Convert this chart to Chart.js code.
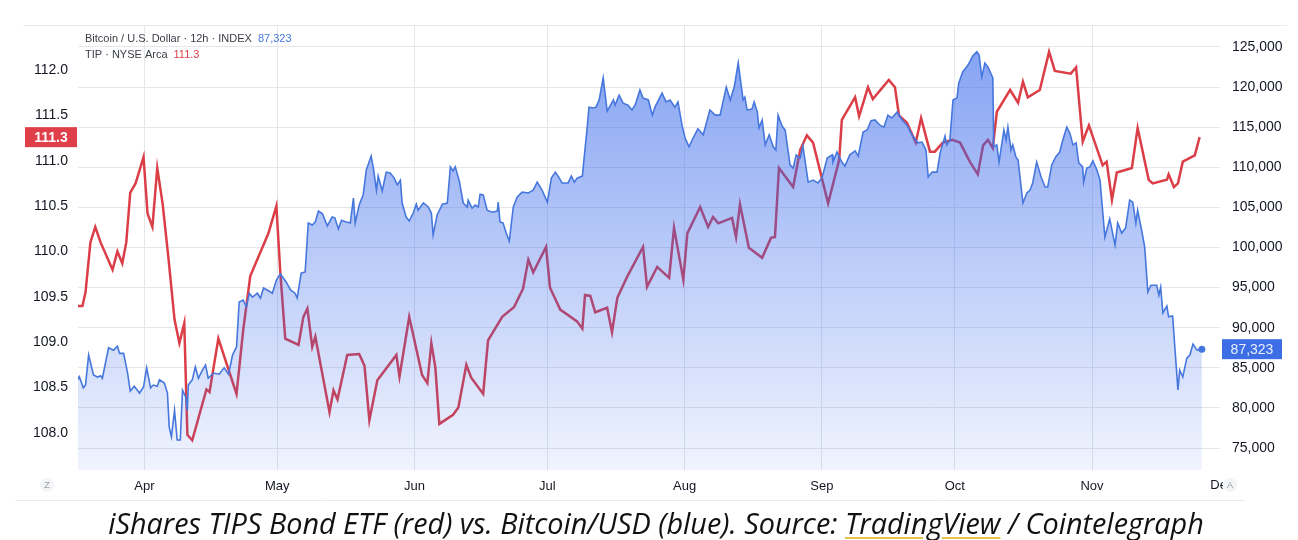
<!DOCTYPE html>
<html>
<head>
<meta charset="utf-8">
<script src="https://cdn.jsdelivr.net/npm/chart.js@4.4.1/dist/chart.umd.min.js"></script>
<style>
  html, body { margin: 0; padding: 0; background: #fff; }
  #wrap { width: 1298px; height: 505px; }
  #caption {
    width: 1298px; height: 35px; text-align: center; white-space: nowrap;
    font-family: "Open Sans", sans-serif; font-style: italic; font-size: 28.8px;
    line-height: 35px; color: #111; padding-left: 14px; box-sizing: border-box;
  }
  #caption u { text-decoration-color: #e6c34a; text-underline-offset: 3px; }
</style>
</head>
<body>
<div id="wrap"><canvas id="myChart" width="1298" height="505"></canvas></div>
<div id="caption">iShares TIPS Bond ETF (red) vs. Bitcoin/USD (blue). Source: <u>TradingView</u> / Cointelegraph</div>
<script>
// Day of year 2025 (Jan 1 = 0)
var monthStarts = [90, 120, 151, 181, 212, 243, 273, 304];
var monthNames  = ['Apr', 'May', 'Jun', 'Jul', 'Aug', 'Sep', 'Oct', 'Nov'];

var tipTicks = [108.0, 108.5, 109.0, 109.5, 110.0, 110.5, 111.0, 111.5, 112.0];
var btcTicks = [75000, 80000, 85000, 90000, 95000, 100000, 105000, 110000, 115000, 120000, 125000];

// Bitcoin / USD, 12h
var btcDays = [74.9, 75.3, 76.2, 76.7, 77.4, 78.5, 79.4, 80.1, 80.5, 81.9, 83.0, 83.9, 84.4, 85.3, 86.2, 86.8, 87.7, 88.9, 89.8, 90.5,
	91.4, 92.0, 92.9, 93.4, 94.5, 95.2, 95.6, 96.1, 96.8, 97.4, 98.1, 98.6, 99.3, 99.7, 99.9, 100.8, 101.5, 102.2, 103.1, 103.8,
	104.4, 105.6, 106.9, 108.0, 109.0, 109.9, 110.8, 111.4, 112.3, 113.0, 113.7, 114.4, 115.5, 116.2, 116.9, 118.0, 118.9, 119.8, 120.7, 122.0,
	123.0, 124.0, 124.5, 125.4, 126.3, 127.0, 127.9, 128.6, 129.3, 130.2, 131.3, 132.4, 133.0, 133.8, 134.5, 135.4, 136.5, 137.2, 137.6, 138.5,
	139.4, 140.1, 141.2, 141.7, 142.4, 142.8, 143.7, 144.6, 145.5, 146.4, 147.1, 147.8, 148.2, 149.1, 149.8, 150.7, 151.4, 151.8, 153.0, 154.1,
	154.8, 155.2, 156.1, 157.3, 158.4, 159.1, 159.7, 160.2, 161.1, 162.0, 162.9, 163.1, 164.0, 164.7, 165.4, 165.8, 166.5, 167.4, 168.5, 169.7,
	169.9, 170.3, 171.0, 171.7, 172.4, 173.3, 174.2, 175.3, 176.7, 177.8, 178.7, 179.8, 181.0, 181.9, 182.8, 183.7, 184.3, 185.7, 186.4, 187.1,
	187.7, 188.9, 189.3, 190.0, 190.4, 191.3, 192.0, 192.7, 193.6, 194.5, 195.9, 196.3, 197.2, 198.1, 199.2, 200.1, 200.8, 201.9, 202.6, 203.8,
	204.7, 205.3, 206.9, 207.8, 208.7, 209.8, 210.5, 211.4, 212.1, 213.0, 213.9, 215.0, 216.2, 217.7, 218.9, 220.0, 221.4, 222.3, 223.2, 224.1,
	225.2, 225.6, 226.1, 227.2, 227.7, 228.4, 228.8, 229.5, 230.2, 231.1, 232.0, 232.6, 233.1, 234.0, 234.7, 235.8, 236.5, 237.2, 238.1, 238.7,
	239.9, 241.0, 242.1, 243.0, 244.2, 245.3, 245.5, 246.4, 247.5, 248.2, 249.3, 250.5, 251.2, 252.3, 253.2, 254.1, 255.0, 256.1, 257.0, 257.9,
	258.8, 260.0, 261.1, 262.2, 263.6, 264.7, 265.6, 266.5, 267.0, 267.9, 269.0, 269.7, 270.8, 271.2, 271.9, 272.6, 273.5, 273.9, 274.8, 276.0,
	277.1, 278.0, 278.5, 279.1, 279.8, 280.5, 281.6, 281.8, 282.5, 283.0, 284.1, 284.6, 285.0, 285.7, 286.1, 286.8, 287.3, 288.4, 289.3, 290.0,
	290.6, 291.5, 292.5, 293.4, 294.0, 294.9, 295.8, 296.7, 297.4, 298.3, 299.0, 299.7, 300.4, 301.0, 301.9, 302.1, 302.8, 303.5, 304.2, 305.1,
	305.8, 306.9, 308.0, 309.2, 309.8, 310.7, 311.6, 312.5, 313.2, 313.9, 314.3, 315.2, 315.9, 316.6, 317.3, 318.6, 319.1, 319.5, 320.0, 320.9,
	321.3, 322.2, 322.7, 323.4, 323.8, 324.5, 325.4, 326.1, 326.8, 327.7, 328.8];
var btcPrice = [83500, 83900, 82500, 82850, 86600, 84100, 83850, 84000, 83700, 87500, 87200, 87700, 86800, 86800, 84350, 82100, 82700, 81850, 82600, 85000,
	82500, 82850, 82700, 83500, 83100, 81850, 77600, 76400, 79700, 76000, 76000, 82200, 81400, 79700, 82850, 83500, 85100, 83700, 84700, 85350,
	83700, 84350, 84200, 85000, 84200, 86600, 87600, 93200, 93450, 92600, 94300, 93800, 94300, 93700, 94950, 94600, 94300, 95950, 96700, 95700,
	94700, 94300, 93700, 96800, 96950, 103050, 102800, 103200, 104550, 104200, 102700, 103800, 103700, 102300, 103400, 103200, 103050, 106150, 103050, 105300,
	106550, 109650, 111400, 109900, 107150, 108900, 107050, 109400, 109300, 108650, 107800, 108400, 105550, 103800, 103300, 104300, 105400, 104650, 105550, 105050,
	104300, 101550, 104050, 105400, 105550, 110050, 109550, 110050, 108300, 105550, 105050, 105900, 104900, 105300, 105050, 106650, 106550, 104650, 104400, 104550,
	105650, 103200, 103050, 101800, 100800, 105050, 106300, 106900, 106800, 107150, 108150, 107150, 105650, 108650, 109400, 108650, 108050, 108050, 108900, 108150,
	108650, 108900, 111150, 115000, 117500, 117400, 117500, 118400, 121150, 117000, 118400, 117750, 119000, 118000, 117750, 117150, 117750, 119650, 118650, 118400,
	116500, 117500, 119250, 118150, 118400, 117500, 118150, 115250, 113650, 112550, 113650, 114800, 114050, 117150, 116500, 116500, 120000, 118400, 120000, 123000,
	118400, 118750, 117150, 117250, 118150, 116900, 114900, 115900, 112800, 114050, 112550, 112150, 116500, 115150, 114650, 110300, 109900, 111550, 111150, 112650,
	108150, 108400, 108050, 108650, 111150, 111550, 110650, 111900, 110650, 110150, 111550, 112050, 111400, 114400, 114650, 115800, 115900, 115250, 115000, 116500,
	116150, 116900, 115900, 115250, 113800, 113050, 113150, 112150, 108800, 109400, 109400, 111800, 113900, 112800, 113400, 118400, 118650, 120500, 121900, 122750,
	123900, 124400, 124000, 121250, 123000, 122500, 121150, 112550, 112800, 110650, 114650, 113400, 115000, 112150, 112800, 111300, 110900, 105550, 106800, 107150,
	108050, 110650, 108800, 107550, 107550, 110300, 111300, 111900, 113400, 115000, 114250, 112800, 113050, 110550, 110050, 108150, 109900, 110050, 110800, 109650,
	108400, 101300, 103550, 100300, 103050, 101800, 102450, 105900, 105650, 103050, 104650, 102150, 100050, 94450, 95300, 95300, 94050, 95050, 91850, 92700,
	91350, 91450, 87600, 82250, 84700, 83850, 86200, 86600, 87950, 87200, 87323];

// iShares TIPS Bond ETF (TIP), NYSE Arca
var tipDays = [74.9, 76.0, 76.7, 77.8, 78.9, 80.1, 82.8, 83.9, 85.0, 85.9, 86.8, 88.0, 89.8, 90.7, 91.8, 92.9, 94.1, 95.4, 96.8, 97.9,
	99.0, 99.7, 100.8, 104.0, 104.7, 106.7, 110.8, 112.3, 113.9, 118.0, 119.8, 120.7, 121.8, 124.8, 125.9, 126.8, 127.9, 128.6, 131.8, 132.7,
	133.6, 135.8, 138.5, 139.7, 140.8, 142.6, 146.9, 147.6, 149.8, 152.7, 153.9, 154.8, 155.7, 156.6, 159.7, 160.9, 162.7, 163.8, 166.5, 167.6,
	170.8, 173.5, 175.5, 176.7, 177.8, 180.7, 181.6, 183.9, 187.7, 188.9, 189.5, 190.7, 191.8, 194.5, 195.6, 196.8, 199.0, 202.6, 203.5, 205.8,
	208.5, 209.6, 211.7, 212.6, 215.5, 217.3, 218.4, 219.6, 222.7, 223.6, 224.5, 226.5, 229.5, 231.5, 232.4, 233.3, 236.5, 238.1, 239.6, 241.0,
	244.4, 246.9, 247.5, 250.5, 251.4, 253.4, 254.5, 258.1, 259.5, 260.4, 262.2, 264.2, 265.4, 267.4, 268.5, 270.3, 272.4, 274.2, 276.4, 278.2,
	279.4, 280.5, 281.6, 282.5, 285.5, 287.3, 288.4, 289.5, 292.2, 294.3, 295.6, 299.2, 300.4, 301.9, 303.3, 306.4, 307.3, 308.5, 309.6, 313.0,
	314.3, 316.8, 317.7, 320.9, 321.3, 322.5, 323.4, 324.5, 327.2, 328.3];
var tipPrice = [109.40, 109.40, 109.55, 110.10, 110.27, 110.10, 109.80, 110.00, 109.87, 110.10, 110.65, 110.75, 111.04, 110.42, 110.27, 110.92, 110.53, 109.94, 109.25, 108.99,
	109.21, 107.98, 107.92, 108.48, 108.45, 109.04, 108.43, 109.13, 109.73, 110.20, 110.50, 109.76, 109.04, 108.97, 109.28, 109.37, 108.95, 109.06, 108.23, 108.47,
	108.37, 108.86, 108.87, 108.74, 108.14, 108.58, 108.86, 108.62, 109.28, 108.64, 108.55, 108.99, 108.72, 108.10, 108.20, 108.28, 108.75, 108.61, 108.43, 109.02,
	109.28, 109.39, 109.59, 109.91, 109.77, 110.05, 109.60, 109.36, 109.23, 109.15, 109.52, 109.51, 109.33, 109.38, 109.11, 109.49, 109.72, 110.05, 109.61, 109.83,
	109.71, 110.26, 109.69, 110.20, 110.49, 110.27, 110.38, 110.31, 110.37, 110.16, 110.52, 110.04, 109.93, 110.15, 110.16, 110.92, 110.71, 111.12, 111.28, 111.20,
	110.53, 111.01, 111.45, 111.70, 111.49, 111.81, 111.68, 111.89, 111.81, 111.50, 111.42, 111.20, 111.47, 111.10, 111.10, 111.20, 111.23, 111.20, 110.99, 110.85,
	111.17, 111.23, 111.14, 111.54, 111.78, 111.64, 111.87, 111.70, 111.78, 112.20, 111.99, 111.96, 112.03, 111.21, 111.39, 110.95, 110.99, 110.57, 110.87, 110.92,
	111.36, 110.79, 110.75, 110.79, 110.85, 110.71, 110.75, 110.99, 111.06, 111.26];

var btcLast = '87,323';
var tipLast = '111.3';

var BLUE = '#4677dd';
var RED  = '#dc3e48';
var GRID = '#e4e6ea';
var TEXT = '#131722';
var FONT = "'Liberation Sans', Arial, sans-serif";

function toPoints(xs, ys) {
	return xs.map(function (x, i) { return { x: x, y: ys[i] }; });
}

// Overlay: header, price badges, frame lines and corner marks
var overlay = {
	id: 'overlay',
	afterDraw: function (chart) {
		var c = chart.ctx;
		var x = chart.scales.x, yL = chart.scales.yL, yR = chart.scales.yR;
		c.save();

		// frame lines
		c.strokeStyle = '#e9eaed';
		c.lineWidth = 1;
		c.beginPath();
		c.moveTo(23, 25.5); c.lineTo(1287, 25.5);
		c.moveTo(15, 500.5); c.lineTo(1245, 500.5);
		c.stroke();

		// header
		c.font = '11px ' + FONT;
		c.textBaseline = 'middle';
		c.textAlign = 'left';
		var t1 = 'Bitcoin / U.S. Dollar \u00b7 12h \u00b7 INDEX ';
		c.fillStyle = '#3a3e47';
		c.fillText(t1, 85, 39);
		c.fillStyle = BLUE;
		c.fillText(btcLast, 85 + c.measureText(t1).width + 3, 39);
		var t2 = 'TIP \u00b7 NYSE Arca ';
		c.fillStyle = '#3a3e47';
		c.fillText(t2, 85, 55);
		c.fillStyle = RED;
		c.fillText(tipLast, 85 + c.measureText(t2).width + 3, 55);

		// left badge
		var yl = yL.getPixelForValue(tipPrice[tipPrice.length - 1]);
		c.fillStyle = '#df3f49';
		c.fillRect(25, yl - 10, 52, 20);
		c.fillStyle = '#ffffff';
		c.font = 'bold 14px ' + FONT;
		c.textAlign = 'center';
		c.fillText(tipLast, 51, yl + 1);

		// right badge
		var yr = yR.getPixelForValue(btcPrice[btcPrice.length - 1]);
		c.fillStyle = '#3d6ee6';
		c.fillRect(1222, yr - 10, 60, 20);
		c.fillStyle = '#e9efff';
		c.font = '14px ' + FONT;
		c.fillText(btcLast, 1252, yr + 1);

		// truncated Dec label
		c.save();
		c.beginPath();
		c.rect(1190, 470, 33, 30);
		c.clip();
		c.fillStyle = TEXT;
		c.font = '13px ' + FONT;
		c.fillText('Dec', x.getPixelForValue(334) - 3, 485);
		c.restore();

		// corner marks
		c.font = '9px ' + FONT;
		[[47, 485, 'Z'], [1230, 485, 'A']].forEach(function (m) {
			c.beginPath();
			c.arc(m[0], m[1], 7, 0, Math.PI * 2);
			c.fillStyle = '#f3f4f6';
			c.fill();
			c.fillStyle = '#9a9ea6';
			c.fillText(m[2], m[0], m[1] + 0.5);
		});

		c.restore();
	}
};

var ctx = document.getElementById('myChart');
var lastIdx = btcPrice.length - 1;

var myChart = new Chart(ctx, {
	type: 'line',
	data: {
		datasets: [{
			label           : 'Bitcoin / U.S. Dollar',
			data            : toPoints(btcDays, btcPrice),
			yAxisID         : 'yR',
			borderColor     : BLUE,
			borderWidth     : 1.6,
			tension         : 0,
			fill            : 'start',
			order           : 0,
			pointRadius     : function (c) { return c.dataIndex === lastIdx ? 3.5 : 0; },
			pointBackgroundColor : BLUE,
			pointBorderWidth: 0,
			backgroundColor : function (c) {
				var area = c.chart.chartArea;
				if (!area) return 'rgba(50,100,235,0.3)';
				var g = c.chart.ctx.createLinearGradient(0, area.top, 0, area.bottom);
				g.addColorStop(0, 'rgba(50,100,235,0.62)');
				g.addColorStop(1, 'rgba(50,100,235,0.07)');
				return g;
			}
		},{
			label           : 'TIP',
			data            : toPoints(tipDays, tipPrice),
			yAxisID         : 'yL',
			borderColor     : RED,
			borderWidth     : 2.5,
			tension         : 0,
			fill            : false,
			order           : 1,
			pointRadius     : 0
		}]
	},
	options: {
		responsive       : false,
		animation        : false,
		devicePixelRatio : 1,
		layout : { padding : { top : 25, bottom : 0, left : 0, right : 0 } },
		plugins : { legend : { display : false }, tooltip : { enabled : false } },
		scales : {
			x : {
				type : 'linear',
				min  : 75,
				max  : 332.9,
				grid : { color : GRID, drawTicks : false },
				border : { display : false },
				afterBuildTicks : function (s) { s.ticks = monthStarts.map(function (v) { return { value : v }; }); },
				afterFit : function (s) { s.height = 35; },
				ticks : {
					autoSkip : false, maxRotation : 0, padding : 9,
					color : TEXT, font : { family : FONT, size : 13 },
					callback : function (v) { return monthNames[monthStarts.indexOf(v)]; }
				}
			},
			yL : {
				position : 'left',
				min : 107.592,
				max : 112.496,
				grid : { display : false, drawTicks : false },
				border : { display : false },
				afterBuildTicks : function (s) { s.ticks = tipTicks.map(function (v) { return { value : v }; }); },
				afterFit : function (s) { s.width = 78; },
				ticks : {
					padding : 10, color : TEXT, font : { family : FONT, size : 14 },
					callback : function (v) { return v.toFixed(1); }
				}
			},
			yR : {
				position : 'right',
				min : 72257,
				max : 127743,
				grid : { color : GRID, drawTicks : false },
				border : { display : false },
				afterBuildTicks : function (s) { s.ticks = btcTicks.map(function (v) { return { value : v }; }); },
				afterFit : function (s) { s.width = 78; },
				ticks : {
					padding : 12, color : TEXT, font : { family : FONT, size : 14 },
					callback : function (v) { return v.toLocaleString('en-US'); }
				}
			}
		}
	},
	plugins : [overlay]
});
</script>
</body>
</html>
